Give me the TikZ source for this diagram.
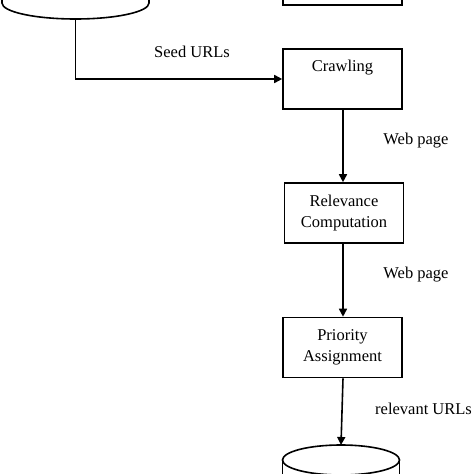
\documentclass[tikz,border=0pt]{standalone}
\usepackage{fontspec}
\setmainfont{Liberation Serif}
\usetikzlibrary{arrows.meta}

\tikzset{
    stage/.style={draw, line width=1.6pt, minimum width=119pt, minimum height=60pt, align=center, inner sep=0pt},
    flow/.style={line width=1.6pt, -{Triangle[length=8pt,width=8pt]}},
    lbl/.style={inner sep=0pt}
}

\begin{document}
\begin{tikzpicture}[x=1pt, y=-1pt, font=\fontsize{16.5}{21}\selectfont]
    \useasboundingbox (0,0) rectangle (474,474);
    % seed store (top left) and URL store (bottom)
    \draw[line width=1.6pt] (2,-40) -- (2,3) arc[start angle=180, end angle=360, x radius=73.5pt, y radius=16pt] -- (149,-40);
    \draw[line width=1.6pt] (341,460) ellipse[x radius=58.5pt, y radius=15pt];
    \draw[line width=1.6pt] (282.5,460) -- (282.5,490);
    \draw[line width=1.6pt] (399.5,460) -- (399.5,490);
    \coordinate (seed) at (75.5,19);
    \coordinate (store) at (341,445);
    % stages
    \node[stage] (upper) at (342.5,-25) {};
    \node[stage] (crawl) at (342.5,79) {Crawling\\ \strut};
    \node[stage] (relev) at (344,213) {Relevance\\Computation};
    \node[stage] (prio) at (342.5,347.5) {Priority\\Assignment};
    % connectors
    \draw[flow] (seed) |- (crawl.west |- 0,79);
    \draw[flow] (crawl.south -| 343,0) -- (relev.north -| 343,0);
    \draw[flow] (relev.south -| 343,0) -- (prio.north -| 343,0);
    \draw[flow] (prio.south -| 343,0) -- (store);
    % labels
    \node[lbl] (l1) at (192,52) {Seed URLs};
    \node[lbl] (l2) at (416,141) {Web page};
    \node[lbl] (l3) at (416,275) {Web page};
    \node[lbl, anchor=west] (l4) at (375,409) {relevant URLs};
\end{tikzpicture}
\end{document}
